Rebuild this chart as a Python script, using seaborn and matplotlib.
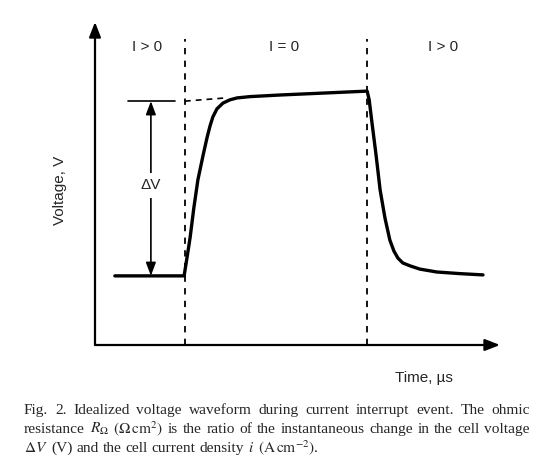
import matplotlib
matplotlib.use("Agg")
import matplotlib.pyplot as plt
import seaborn as sns
import pandas as pd

# ---- data (arbitrary units: time 0-100, voltage 0-100) ----
time_us = [4.9, 22.0, 22.7, 23.5, 24.4, 25.4, 26.7, 27.7, 28.4, 29.1, 30.1, 31.6,
           33.3, 35.1, 38.3, 45.7, 67.2, 67.7, 68.4, 69.4, 70.4, 71.6, 72.8, 73.8,
           74.8, 76.0, 77.8, 80.2, 84.4, 90.1, 95.8]
voltage = [21.4, 21.4, 26.9, 33.4, 42.4, 51.1, 58.8, 64.4, 67.8, 70.6, 73.1, 74.9,
           75.9, 76.5, 76.9, 77.4, 78.6, 75.9, 68.7, 58.8, 48.0, 39.3, 32.5, 29.1,
           26.9, 25.4, 24.5, 23.5, 22.6, 22.1, 21.7]
interrupt_times = [22.2, 67.2]
extrap_t = [22.2, 32.3]
extrap_v = [75.5, 76.5]
dv_x = 13.8
dv_top = 75.5
dv_bottom = 21.4
region_labels = ["I > 0", "I = 0", "I > 0"]
region_t = [12.8, 46.7, 85.9]
region_v = 92.3

caption_words = [
    "Fig. 2.  Idealized voltage waveform during current interrupt event. The ohmic".split(),
    ["resistance", r"$R_\Omega$", r"$(\Omega\,\mathrm{cm}^2)$"]
    + "is the ratio of the instantaneous change in the cell voltage".split(),
    [r"$\Delta{}V$", "(V)"] + "and the cell current density".split()
    + [r"$i$", r"$(\mathrm{A\,cm}^{-2})$."],
]

df = pd.DataFrame({"t": time_us, "V": voltage})

sns.set_style("white")
plt.rcParams["font.family"] = ["Liberation Sans", "DejaVu Sans"]
plt.rcParams["mathtext.fontset"] = "stix"

W, H = 541, 470
fig = plt.figure(figsize=(W / 100, H / 100), dpi=100)
ax = fig.add_axes([95 / W, (H - 345) / H, 405 / W, 323 / H])
ax.set_xlim(0, 100)
ax.set_ylim(0, 100)
for s in ax.spines.values():
    s.set_visible(False)
ax.set_xticks([])
ax.set_yticks([])

# axes with arrows
arrow_kw = dict(arrowstyle="-|>,head_length=0.9,head_width=0.35", color="black",
                lw=1.6, shrinkA=0, shrinkB=0)
ax.annotate("", xy=(100, 0), xytext=(0, 0), arrowprops=arrow_kw, annotation_clip=False)
ax.annotate("", xy=(0, 100), xytext=(0, 0), arrowprops=arrow_kw, annotation_clip=False)

# dashed interrupt lines
for tx in interrupt_times:
    ax.plot([tx, tx], [0, 94.7], ls=(0, (3.5, 3.5)), color="black", lw=1.3)

# waveform
sns.lineplot(data=df, x="t", y="V", sort=False, estimator=None, color="black",
             lw=2.4, ax=ax)
ax.set_xlabel("")
ax.set_ylabel("")

# extrapolation dashed line
ax.plot(extrap_t, extrap_v, ls=(0, (3.5, 3)), color="black", lw=1.2)

# delta V marker
ax.plot([8.1, 19.8], [dv_top, dv_top], color="black", lw=1.2)
ax.annotate("", xy=(dv_x, dv_top), xytext=(dv_x, dv_bottom),
            arrowprops=dict(arrowstyle="<|-|>,head_length=0.8,head_width=0.3",
                            color="black", lw=1.2, shrinkA=0, shrinkB=0))
ax.text(dv_x, 49.5, "ΔV", ha="center", va="center", fontsize=11,
        bbox=dict(facecolor="white", edgecolor="none", pad=4))

for lab, tx in zip(region_labels, region_t):
    ax.text(tx, region_v, lab, ha="center", va="center", fontsize=11)

# axis labels
fig.text(60 / W, 1 - 190 / H, "Voltage, V", rotation=90, ha="center", va="center",
         fontsize=11)
fig.text(424 / W, 1 - 378 / H, "Time, µs", ha="center", va="center", fontsize=11)

# caption: lines 1-2 justified, line 3 natural spacing
cap_size = 11.1
cap_font = dict(family=["Liberation Serif", "DejaVu Serif"], fontsize=cap_size)
x_left, x_right = 24, 530
space_px = 0.25 * cap_size * 100 / 72
renderer = fig.canvas.get_renderer()
for k, words in enumerate(caption_words):
    y = 1 - (414 + 19 * k) / H
    txts = [fig.text(0, y, w, ha="left", va="baseline", **cap_font) for w in words]
    widths = [t.get_window_extent(renderer).width for t in txts]
    if k < 2:
        gap = (x_right - x_left - sum(widths)) / (len(words) - 1)
    else:
        gap = space_px
    x = x_left
    for t, w in zip(txts, widths):
        t.set_x(x / W)
        x += w + gap

fig.savefig("out.png", dpi=100)
